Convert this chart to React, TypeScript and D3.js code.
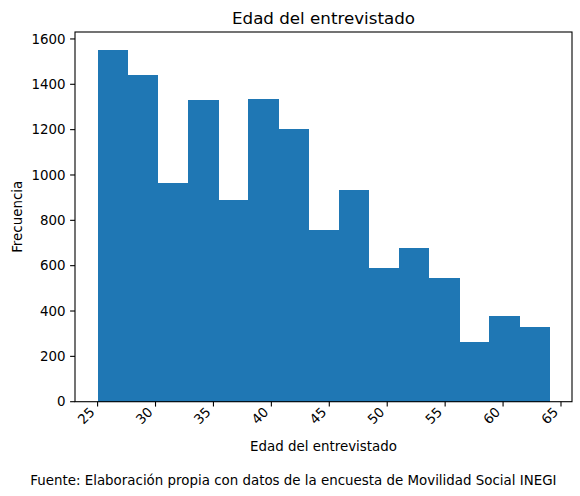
import React from 'react';
import * as d3 from 'd3';

// histogram of interviewee age, 15 bins between 25 and 64
const ageMin = 25;
const ageMax = 64;
const counts = [1553, 1442, 963, 1332, 888, 1337, 1201, 756, 932, 589, 677, 545, 262, 377, 329];
const xTicks = [25, 30, 35, 40, 45, 50, 55, 60, 65];
const yTicks = [0, 200, 400, 600, 800, 1000, 1200, 1400, 1600];

const title = 'Edad del entrevistado';
const xLabel = 'Edad del entrevistado';
const yLabel = 'Frecuencia';
const source = 'Fuente: Elaboración propia con datos de la encuesta de Movilidad Social INEGI';

const W = 580;
const H = 496;
const m = { left: 75, right: 572, top: 32, bottom: 401.7 };
const font = '"DejaVu Sans", sans-serif';
const fs = 13.4;

export default function App() {
  const binW = (ageMax - ageMin) / counts.length;
  const edges = d3.range(counts.length + 1).map(i => ageMin + i * binW);
  const pad = (ageMax - ageMin) * 0.05;

  const x = d3.scaleLinear().domain([ageMin - pad, ageMax + pad]).range([m.left, m.right]);
  const y = d3.scaleLinear().domain([0, (d3.max(counts) as number) * 1.05]).range([m.bottom, m.top]);

  const cx = (m.left + m.right) / 2;

  return (
    <svg width={W} height={H} style={{ position: 'absolute', left: 0, top: 0, background: '#fff' }} fontFamily={font}>
      <rect x={0} y={0} width={W} height={H} fill="#fff" />
      <g shapeRendering="crispEdges">
        {counts.map((c, i) => (
          <rect
            key={i}
            x={x(edges[i])}
            y={y(c)}
            width={x(edges[i + 1]) - x(edges[i]) + 0.5}
            height={y(0) - y(c)}
            fill="#1f77b4"
          />
        ))}
      </g>

      {/* spines */}
      <rect x={m.left} y={m.top} width={m.right - m.left} height={m.bottom - m.top} fill="none" stroke="#000" strokeWidth={1.1} />

      {/* x axis */}
      {xTicks.map(t => (
        <g key={t}>
          <line x1={x(t)} x2={x(t)} y1={m.bottom} y2={m.bottom + 4.9} stroke="#000" strokeWidth={1.1} />
          <text
            transform={`translate(${x(t) - 2},${413}) rotate(-45)`}
            textAnchor="end"
            fontSize={fs}
            fill="#000"
          >
            {t}
          </text>
        </g>
      ))}
      <text x={cx} y={450.5} textAnchor="middle" fontSize={fs} fill="#000">{xLabel}</text>

      {/* y axis */}
      {yTicks.map(t => (
        <g key={t}>
          <line x1={m.left - 4.9} x2={m.left} y1={y(t)} y2={y(t)} stroke="#000" strokeWidth={1.1} />
          <text x={m.left - 9.5} y={y(t)} dy="0.35em" textAnchor="end" fontSize={fs} fill="#000">{t}</text>
        </g>
      ))}
      <text
        transform={`translate(${22},${(m.top + m.bottom) / 2}) rotate(-90)`}
        textAnchor="middle"
        fontSize={fs}
        fill="#000"
      >
        {yLabel}
      </text>

      <text x={cx} y={24} textAnchor="middle" fontSize={16.7} fill="#000">{title}</text>
      <text x={293.4} y={484.5} textAnchor="middle" fontSize={fs} fill="#000">{source}</text>
    </svg>
  );
}
